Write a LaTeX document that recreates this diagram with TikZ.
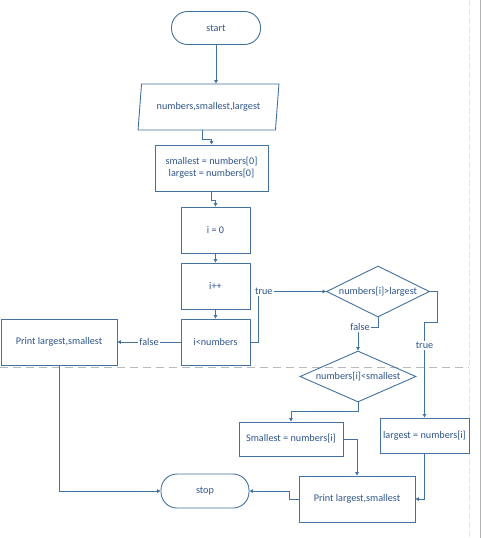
\documentclass[tikz,border=0pt]{standalone}
\usepackage{fontspec}
\setmainfont{Carlito}
\usetikzlibrary{arrows.meta, shapes.geometric, calc}

\definecolor{flowline}{RGB}{68,114,160}
\definecolor{flowtext}{RGB}{47,85,140}

\begin{document}
\begin{tikzpicture}[
		font=\fontsize{10.2}{11.8}\selectfont,
		>={Triangle[length=3.5pt,width=3.5pt]},
		x=1pt, y=-1pt, % pixel coordinates, y pointing down
		every node/.style={text=flowtext},
		base/.style={draw=flowline, line width=0.9pt, align=center, inner sep=0pt},
		startstop/.style={base, rectangle, rounded corners=16pt, minimum width=89pt, minimum height=33pt},
		io/.style={base, trapezium, trapezium left angle=73, trapezium right angle=107, trapezium stretches=true, minimum width=141pt, minimum height=46pt},
		process/.style={base, rectangle, minimum height=46pt},
		decision/.style={base, diamond, aspect=2, minimum height=51pt},
		arr/.style={->, draw=flowline, line width=0.9pt},
		lbl/.style={fill=white, inner sep=1pt}
		]
		
		\useasboundingbox (0,0) rectangle (481,538);
		
		% --- 1. Page guides ---
		\draw[gray!55, line width=0.8pt, dash pattern=on 8pt off 5pt] (0,367) -- (469,367);
		\draw[gray!20, line width=0.8pt, dash pattern=on 6pt off 3pt] (469,0) -- (469,538);
		\draw[gray!60, line width=1pt] (480,0) -- (480,538);
		
		% --- 2. Main column ---
		\node[startstop] (start) at (216,28) {start};
		\node[io] (input) at (208.5,107) {numbers,smallest,largest};
		\node[process, minimum width=113pt] (init) at (211.5,168) {smallest = numbers[0]\\largest = numbers[0]};
		\node[process, minimum width=69pt] (izero) at (215.5,230) {i = 0};
		\node[process, minimum width=69pt] (iinc) at (215.5,286) {i++};
		\node[process, minimum width=69pt] (cond) at (215.5,342) {i<numbers};
		\node[process, minimum width=116pt] (printa) at (59,342) {Print largest,smallest};
		
		% --- 3. Comparisons ---
		\node[decision, minimum width=103pt] (gt) at (378,291.5) {numbers[i]>largest};
		\node[decision, minimum width=116pt] (lt) at (358,376.5) {numbers[i]<smallest};
		\node[process, minimum width=104pt, minimum height=34pt] (setsmall) at (291,439) {Smallest = numbers[i]};
		\node[process, minimum width=89pt, minimum height=35pt] (setlarge) at (424.5,435.5) {largest = numbers[i]};
		\node[process, minimum width=116pt] (printb) at (357,499) {Print largest,smallest};
		\node[startstop, minimum width=88pt, minimum height=34pt] (stop) at (205,491) {stop};
		
		% --- 4. Connectors ---
		\draw[arr] (start.south) -- (start.south |- input.north);
		\draw[arr] ([xshift=-6pt]input.south) -- ++(0,9) -| (init.north);
		\draw[arr] (init.south) -- ++(0,9) -| (izero.north);
		\draw[arr] (izero) -- (iinc);
		\draw[arr] (iinc) -- (cond);
		\draw[arr] (cond) -- node[lbl] {false} (printa);
		\draw[arr] (cond.east) -- ++(8,0) |- node[lbl, pos=0.54] {true} (gt.west);
		\draw[arr] (gt.south) -- ++(0,10) -| node[lbl, pos=0.45] {false} (lt.north);
		\draw[arr] (gt.east) -- ++(7,0) -- ++(0,31) -| node[lbl, pos=0.62] {true} (setlarge.north);
		\draw[arr] (lt.south) -- ++(0,9) -| (setsmall.north);
		\draw[arr] (setsmall.east) -| (printb.north);
		\draw[arr] (setlarge.south) |- (printb.east);
		\draw[arr] (printb.west) -- ++(-9,0) |- (stop.east);
		\draw[arr] (printa.south) |- (stop.west);
		
	\end{tikzpicture}
\end{document}
